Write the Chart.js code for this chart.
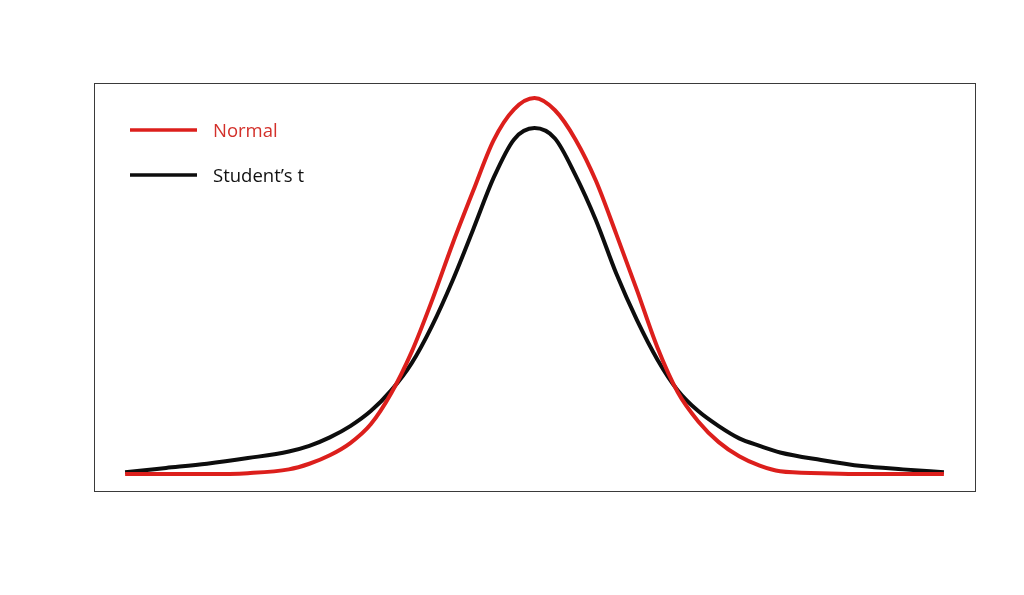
<!DOCTYPE html>
<html>
<head>
<meta charset="utf-8">
<script src="https://cdn.jsdelivr.net/npm/chart.js@4"></script>
<style>
  html, body { margin: 0; padding: 0; background: #fff; }
  #wrap { width: 1024px; height: 595px; }
</style>
</head>
<body>
<div id="wrap"><canvas id="chart"></canvas></div>
<script>
// x positions (standard units) and curve heights
const xValues = [-5, -4.5, -4, -3.5, -3, -2.75, -2.5, -2.25, -2, -1.75, -1.5, -1.25, -1, -0.75, -0.5, -0.25, 0,
                 0.25, 0.5, 0.75, 1, 1.25, 1.5, 1.75, 2, 2.25, 2.5, 2.75, 3, 3.5, 4, 4.5, 5];
const normalValues = [0, 0, 0, 0.001, 0.005, 0.011, 0.020, 0.033, 0.053, 0.086, 0.130, 0.185, 0.245, 0.301, 0.355, 0.388, 0.400,
                      0.387, 0.356, 0.312, 0.255, 0.196, 0.135, 0.087, 0.056, 0.034, 0.019, 0.009, 0.003, 0.001, 0, 0, 0];
const studentValues = [0.002, 0.0065, 0.011, 0.017, 0.024, 0.030, 0.039, 0.051, 0.067, 0.089, 0.118, 0.158, 0.206, 0.260, 0.315, 0.356, 0.368,
                       0.357, 0.318, 0.270, 0.213, 0.164, 0.122, 0.089, 0.067, 0.051, 0.038, 0.030, 0.023, 0.015, 0.0085, 0.005, 0.002];
const seriesLabels = ['Normal', 'Student\u2019s t'];
const seriesColors = ['#dc1f1c', '#0d0d0d'];
const legendTextColors = ['#d3302a', '#111111'];

const toPoints = (values) => values.map((y, i) => ({ x: xValues[i], y }));

const frame = {
  id: 'frame',
  afterDraw(chart) {
    const { ctx, chartArea: a } = chart;
    ctx.save();
    ctx.strokeStyle = '#3a3a3a';
    ctx.lineWidth = 1;
    ctx.strokeRect(a.left + 0.5, a.top + 0.5, a.right - a.left, a.bottom - a.top);
    ctx.restore();
  }
};

const insideLegend = {
  id: 'insideLegend',
  afterDraw(chart) {
    const { ctx, chartArea: a } = chart;
    ctx.save();
    chart.data.datasets.forEach((ds, i) => {
      const y = a.top + 47 + i * 45;
      ctx.strokeStyle = ds.borderColor;
      ctx.lineWidth = 3.5;
      ctx.beginPath();
      ctx.moveTo(a.left + 36, y);
      ctx.lineTo(a.left + 103, y);
      ctx.stroke();
      ctx.fillStyle = legendTextColors[i];
      ctx.font = '18.5px "Open Sans"';
      ctx.textBaseline = 'middle';
      ctx.fillText(ds.label, a.left + 119, y + 2);
    });
    ctx.restore();
  }
};

new Chart(document.getElementById('chart'), {
  type: 'line',
  data: {
    datasets: [
      {
        label: seriesLabels[0],
        data: toPoints(normalValues),
        borderColor: seriesColors[0],
        borderWidth: 4,
        pointRadius: 0,
        cubicInterpolationMode: 'monotone',
        fill: false
      },
      {
        label: seriesLabels[1],
        data: toPoints(studentValues),
        borderColor: seriesColors[1],
        borderWidth: 4,
        pointRadius: 0,
        cubicInterpolationMode: 'monotone',
        fill: false
      }
    ]
  },
  options: {
    responsive: true,
    maintainAspectRatio: false,
    animation: false,
    layout: { padding: { left: 94, top: 83, right: 49, bottom: 104 } },
    scales: {
      x: { type: 'linear', min: -5.38, max: 5.38, display: false },
      y: { min: -0.018, max: 0.416, display: false }
    },
    plugins: {
      legend: { display: false },
      tooltip: { enabled: false }
    }
  },
  plugins: [frame, insideLegend]
});
</script>
</body>
</html>
